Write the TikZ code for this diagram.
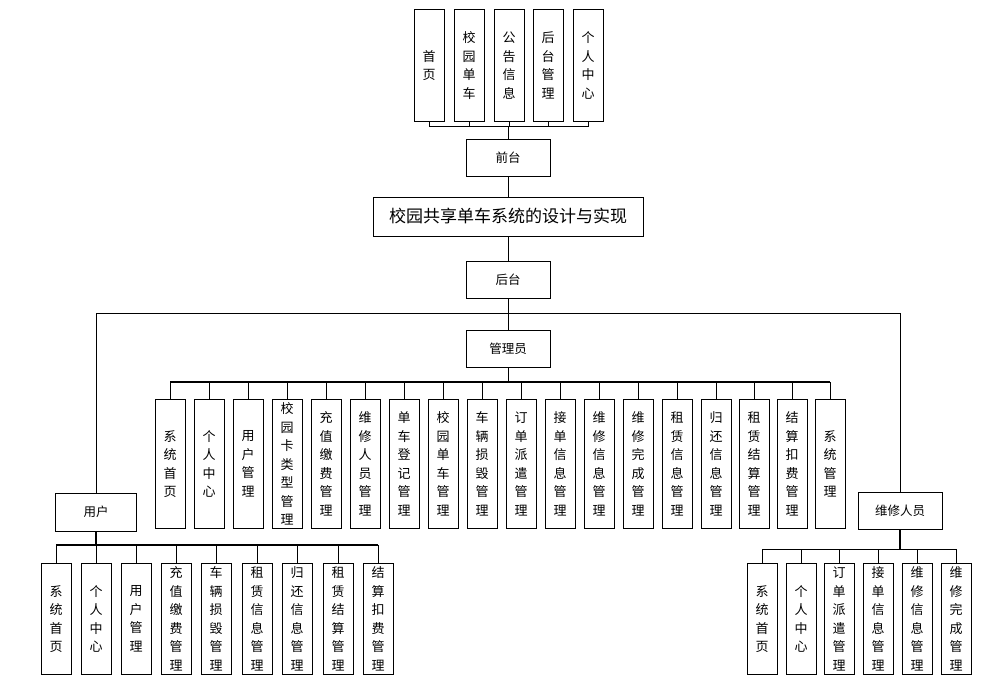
\documentclass[tikz,border=0pt]{standalone}
\usepackage{fontspec}
\setmainfont{Noto Sans CJK SC}
\XeTeXlinebreaklocale "zh"
\XeTeXlinebreakskip=0pt plus 1pt
\begin{document}
\begin{tikzpicture}[x=1pt,y=-1pt,
  hb/.style={draw,line width=0.8pt,minimum width=84,minimum height=37,font=\fontsize{12.5}{14}\selectfont},
  vb/.style={draw,line width=0.8pt,minimum width=30,inner sep=0pt,text width=13.5pt,align=center,font=\fontsize{13}{18.5}\selectfont},
  ln/.style={line width=0.8pt}]
\useasboundingbox (0,0) rectangle (1000,684);
% top
\foreach \x/\t [count=\i] in {429/首页,469/校园单车,509/公告信息,548/后台管理,588/个人中心}
  \node[vb,minimum height=112,anchor=north] (t\i) at (\x,9) {\t};
\node[hb] (qt) at (508,158) {前台};
\node[draw,line width=0.8pt,minimum width=270,minimum height=39,font=\fontsize{17}{20}\selectfont] (title) at (508,216.5) {校园共享单车系统的设计与实现};
\node[hb] (ht) at (508,280) {后台};
\node[hb] (gly) at (508,348.5) {管理员};
\node[draw,line width=0.8pt,minimum width=81,minimum height=38,font=\fontsize{12.5}{14}\selectfont] (yh) at (96,512) {用户};
\node[hb] (wx) at (900,510.5) {维修人员};
\foreach \i in {1,...,5} \draw[ln] (t\i.south) -- ++(0,5) coordinate (c\i);
\draw[ln] (c1) -- (c5);
\draw[ln] (qt.north) -- (508,126);
\draw[ln] (qt.south) -- (title.north);
\draw[ln] (title.south) -- (ht.north);
\draw[ln] (ht.south) -- (gly.north);
\coordinate (L) at (96,313); \coordinate (R) at (900,313);
\draw[ln] (yh.north) -- (L) -- (R) -- (wx.north);
% admin
\foreach \x/\t [count=\i] in {170/系统首页,209/个人中心,248/用户管理,287/校园卡类型管理,326/充值缴费管理,365/维修人员管理,404/单车登记管理,443/校园单车管理,482/车辆损毁管理,521/订单派遣管理,560/接单信息管理,599/维修信息管理,638/维修完成管理,677/租赁信息管理,716/归还信息管理,754/租赁结算管理,792/结算扣费管理,830/系统管理}{
  \node[vb,minimum height=129,anchor=north] (a\i) at (\x,399) {\t};
  \draw[ln] (a\i.north) -- (\x,382);}
\draw[ln] (gly.south) -- (508,382);
\draw[line width=1.4pt] (170,382) -- (830,382);
% user
\foreach \x/\t [count=\i] in {56/系统首页,96/个人中心,136/用户管理,176/充值缴费管理,216/车辆损毁管理,257/租赁信息管理,297/归还信息管理,338/租赁结算管理,378/结算扣费管理}{
  \node[vb,minimum height=111,anchor=north] (u\i) at (\x,563) {\t};
  \draw[ln] (u\i.north) -- (\x,545);}
\draw[line width=1.4pt] (yh.south) -- (96,545);
\draw[line width=1.4pt] (56,545) -- (378,545);
% maint
\foreach \x/\t [count=\i] in {762/系统首页,801/个人中心,839/订单派遣管理,878/接单信息管理,917/维修信息管理,956/维修完成管理}{
  \node[vb,minimum height=111,anchor=north] (m\i) at (\x,563) {\t};
  \draw[ln] (m\i.north) -- (\x,549);}
\draw[line width=1.4pt] (wx.south) -- (900,549);
\draw[ln] (762,549) -- (956,549);
\end{tikzpicture}
\end{document}
